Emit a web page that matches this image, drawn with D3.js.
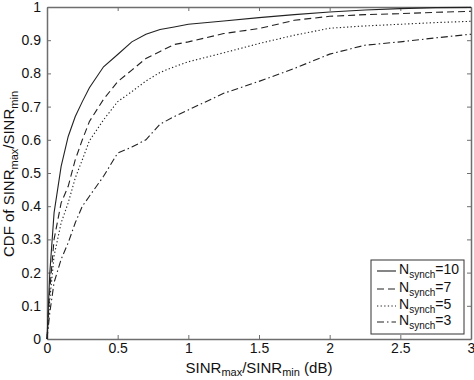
<!DOCTYPE html>
<html><head><meta charset="utf-8">
<script src="https://cdn.jsdelivr.net/npm/d3@7"></script>
<style>body{margin:0;background:#fff}svg{display:block}text{font-family:"Liberation Sans",Arial,sans-serif;fill:#111}</style>
</head><body>
<svg id="c" width="474" height="380"></svg>
<script>
const xs = [0, 0.02, 0.05, 0.1, 0.15, 0.2, 0.25, 0.3, 0.4, 0.5, 0.6, 0.7, 0.8, 0.9, 1.0, 1.25, 1.5, 1.75, 2.0, 2.25, 2.5, 2.75, 3.0];
const n10 = [0, 0.2, 0.38, 0.52, 0.61, 0.67, 0.715, 0.757, 0.82, 0.857, 0.895, 0.918, 0.932, 0.94, 0.948, 0.958, 0.968, 0.977, 0.985, 0.991, 0.995, 0.998, 0.999];
const n7  = [0, 0.15, 0.3, 0.41, 0.46, 0.54, 0.6, 0.655, 0.722, 0.775, 0.81, 0.845, 0.866, 0.887, 0.895, 0.92, 0.935, 0.96, 0.972, 0.977, 0.98, 0.984, 0.987];
const n5  = [0, 0.12, 0.25, 0.35, 0.41, 0.485, 0.54, 0.597, 0.66, 0.715, 0.745, 0.777, 0.803, 0.82, 0.835, 0.862, 0.89, 0.915, 0.936, 0.943, 0.948, 0.953, 0.957];
const n3  = [0, 0.08, 0.17, 0.24, 0.29, 0.35, 0.4, 0.43, 0.49, 0.56, 0.578, 0.6, 0.647, 0.67, 0.69, 0.74, 0.776, 0.815, 0.858, 0.885, 0.895, 0.907, 0.918];
const seriesNames = ["10", "7", "5", "3"];
const xTicks = [0, 0.5, 1, 1.5, 2, 2.5, 3];
const yTicks = [0, 0.1, 0.2, 0.3, 0.4, 0.5, 0.6, 0.7, 0.8, 0.9, 1];

const series = [
  {name: seriesNames[0], vals: n10, dash: null},
  {name: seriesNames[1], vals: n7, dash: "7,4"},
  {name: seriesNames[2], vals: n5, dash: "1.3,2.3"},
  {name: seriesNames[3], vals: n3, dash: "7,3,1.5,3"}
];

const L = 47, R = 471, T = 7, B = 339;
const svg = d3.select("#c");
const x = d3.scaleLinear().domain([0, 3]).range([L, R]);
const y = d3.scaleLinear().domain([0, 1]).range([B, T]);
const frame = "#6e6e6e";

const fmt = d => d3.format("")(+d.toFixed(1));
const gx = svg.append("g").attr("transform", `translate(0,${B})`)
  .call(d3.axisBottom(x).tickValues(xTicks).tickSizeInner(-4).tickSizeOuter(0).tickPadding(4).tickFormat(fmt));
const gy = svg.append("g").attr("transform", `translate(${L},0)`)
  .call(d3.axisLeft(y).tickValues(yTicks).tickSizeInner(-4).tickSizeOuter(0).tickPadding(6).tickFormat(fmt));
const gt = svg.append("g").attr("transform", `translate(0,${T})`)
  .call(d3.axisTop(x).tickValues(xTicks).tickSizeInner(-4).tickSizeOuter(0).tickFormat(""));
const gr = svg.append("g").attr("transform", `translate(${R},0)`)
  .call(d3.axisRight(y).tickValues(yTicks).tickSizeInner(-4).tickSizeOuter(0).tickFormat(""));
[gx, gy, gt, gr].forEach(g => {
  g.selectAll("path.domain").attr("stroke", frame).attr("stroke-width", 1.5);
  g.selectAll(".tick line").attr("stroke", frame);
  g.selectAll(".tick text").attr("font-size", 14).attr("fill", "#111")
    .attr("font-family", '"Liberation Sans",Arial,sans-serif');
});

const line = d3.line().x((d, i) => x(xs[i])).y(d => y(d));
series.forEach(s => {
  svg.append("path").datum(s.vals).attr("d", line)
    .attr("fill", "none").attr("stroke", "#222").attr("stroke-width", 1.1)
    .attr("stroke-dasharray", s.dash);
});

const xl = svg.append("text").attr("x", 259).attr("y", 373).attr("text-anchor", "middle").attr("font-size", 15);
xl.append("tspan").text("SINR");
xl.append("tspan").attr("font-size", 11).attr("dy", 3).text("max");
xl.append("tspan").attr("dy", -3).text("/SINR");
xl.append("tspan").attr("font-size", 11).attr("dy", 3).text("min");
xl.append("tspan").attr("dy", -3).text(" (dB)");

const yl = svg.append("text").attr("transform", `translate(14,174) rotate(-90)`).attr("text-anchor", "middle").attr("font-size", 15);
yl.append("tspan").text("CDF of SINR");
yl.append("tspan").attr("font-size", 11).attr("dy", 4).text("max");
yl.append("tspan").attr("dy", -4).text("/SINR");
yl.append("tspan").attr("font-size", 11).attr("dy", 4).text("min");

const lg = svg.append("g");
lg.append("rect").attr("x", 371).attr("y", 260).attr("width", 93).attr("height", 74)
  .attr("fill", "#fff").attr("stroke", "#333").attr("stroke-width", 1);
const rowsY = [271, 289, 306, 322];
series.forEach((s, i) => {
  lg.append("line").attr("x1", 377).attr("x2", 396).attr("y1", rowsY[i]).attr("y2", rowsY[i])
    .attr("stroke", "#222").attr("stroke-width", 1.1).attr("stroke-dasharray", s.dash);
  const t = lg.append("text").attr("x", 399).attr("y", rowsY[i] + 3).attr("font-size", 14);
  t.append("tspan").text("N");
  t.append("tspan").attr("font-size", 10).attr("dy", 4).text("synch");
  t.append("tspan").attr("dy", -4).text("=" + s.name);
});
</script>
</body></html>
